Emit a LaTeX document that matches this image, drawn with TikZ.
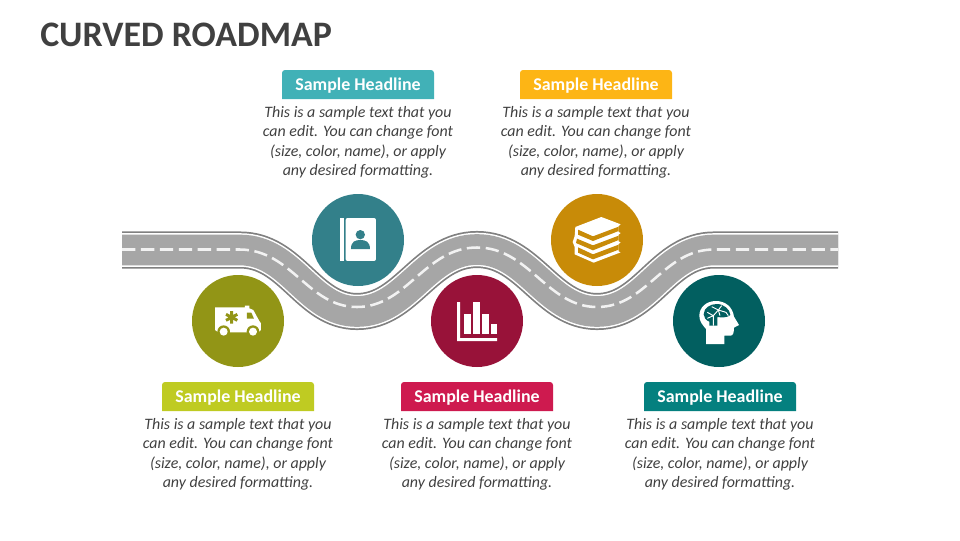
\documentclass[tikz,border=0pt]{standalone}
\usepackage{fontspec}
\setmainfont{Carlito}
\definecolor{ink}{HTML}{404040}
\definecolor{roadgrey}{HTML}{A6A6A6}
\definecolor{roadedge}{HTML}{808080}
\definecolor{cOlive}{HTML}{929516}
\definecolor{cTeal}{HTML}{33808A}
\definecolor{cRed}{HTML}{981239}
\definecolor{cAmber}{HTML}{C88B08}
\definecolor{cDark}{HTML}{025F60}
\definecolor{tTeal}{HTML}{41B1B7}
\definecolor{tAmber}{HTML}{FDB515}
\definecolor{tLime}{HTML}{BFCB22}
\definecolor{tRed}{HTML}{CE1A4F}
\definecolor{tDark}{HTML}{04807F}
\tikzset{
  x=0.75pt,y=-0.75pt,
  disc/.style={circle,minimum size=69pt,inner sep=0pt,fill=#1},
  headtext/.style={font=\fontsize{13.45}{15}\selectfont\bfseries,text=white,inner sep=0pt},
  bodytext/.style={font=\fontsize{11.95}{14.5}\selectfont\itshape,text=ink,align=center,inner sep=0pt,anchor=north},
  icon/.style={fill=white,draw=none},
}
\newcommand{\roadpath}{(122,250) -- (240,250) .. controls (292,250) and (308,311.5) .. (357,311.5) .. controls (407,311.5) and (425,249.5) .. (477,249.5) .. controls (529,249.5) and (547,311.5) .. (597,311.5) .. controls (647,311.5) and (663,250) .. (714,250) -- (838,250)}
\newcommand{\dashpath}{(122,249.5) -- (240,249.5) .. controls (292,250) and (308,307) .. (357,307) .. controls (407,307) and (425,247.5) .. (477,247.5) .. controls (529,247.5) and (547,307) .. (597,307) .. controls (647,307) and (663,249.5) .. (714,249.5) -- (838,249.5)}
\newcommand{\headtab}[5]{% left, top, colour, name, headline
  \fill[#3] (#1,#2+29) [rounded corners=2.25pt] -- (#1,#2) -- (#1+152,#2) [sharp corners] -- (#1+152,#2+29) -- cycle;
  \node[headtext] (#4) at (#1+76,#2+16) {#5};
}
\newcommand{\sampletext}{This is a sample text that you\\can edit. You can change font\\(size, color, name), or apply\\any desired formatting.}
\begin{document}
\begin{tikzpicture}
\useasboundingbox (0,0) rectangle (960,540);
\node[font=\fontsize{26.9}{30}\selectfont\bfseries,text=ink,anchor=west,inner sep=0pt] (title) at (40,34.5) {CURVED ROADMAP};
% road
\draw[roadedge,line width=27.8pt] \roadpath;
\draw[white,line width=25.2pt] \roadpath;
\draw[roadgrey,line width=23pt] \roadpath;
\draw[white!95!black,line width=1.9pt,dash pattern=on 10pt off 4.2pt] \dashpath;
% discs
\node[disc=cOlive] (d1) at (238,321) {};
\node[disc=cTeal] (d2) at (358,240) {};
\node[disc=cRed] (d3) at (477,321) {};
\node[disc=cAmber] (d4) at (597,240) {};
\node[disc=cDark] (d5) at (719,321) {};
% ambulance
\begin{scope}[shift={(190,275)},scale=0.3333]
  \fill[icon] (75,97) -- (165,97) -- (165,92) -- (178,92) -- (178,100) -- (190,105) -- (208,138) -- (213,145) -- (213,165) -- (205,172) -- (85,172) -- (75,165) -- cycle;
  \fill[cOlive] (171,113) -- (184,113) -- (192,131) -- (171,131) -- cycle;
  \draw[cOlive,line width=2.2pt] (125,108) -- (125,146) (108,118) -- (142,136) (108,136) -- (142,118);
  \fill[cOlive] (101,170) circle (19);
  \fill[cOlive] (189,170) circle (19);
  \fill[white] (101,170) circle (12);
  \fill[white] (189,170) circle (12);
\end{scope}
% address book
\begin{scope}[shift={(110,190)},scale=0.3333]
  \fill[icon] (690,84) rectangle (701,213);
  \fill[icon,rounded corners=1.5pt] (707,84) rectangle (798,213);
  \fill[cTeal] (751,134) circle (14);
  \fill[cTeal] (723,177) .. controls (723,155) and (735,150) .. (751,150) .. controls (767,150) and (780,155) .. (780,177) -- cycle;
\end{scope}
% chart
\fill[icon] (457,302) -- (460,302) -- (460,338) -- (497,338) -- (497,341) -- (457,341) -- cycle;
\fill[icon] (464,314) rectangle (471,334);
\fill[icon] (473,302) rectangle (480,334);
\fill[icon] (482,314) rectangle (488.5,334);
\fill[icon] (491,324) rectangle (497,334);
% books
\begin{scope}[shift={(548,192)},scale=0.3333]
  \fill[icon] (160,75) -- (218,97) -- (212,102) -- (212,120) -- (218,123) -- (212,128) -- (212,148) -- (218,151) -- (212,156) -- (212,178) -- (218,181) -- (137,212) -- (80,187) -- (80,165) -- (74,150) -- (80,132) -- (82,105) -- cycle;
  \fill[cAmber] (90,113) -- (135,133) -- (212,104) -- (212,117) -- (135,147) -- (90,128) -- cycle;
  \fill[cAmber] (87,140) -- (135,160) -- (212,131) -- (212,144) -- (135,175) -- (84,153) -- cycle;
  \fill[cAmber] (90,166) -- (135,187) -- (212,158) -- (212,173) -- (135,202) -- (90,182) -- cycle;
\end{scope}
% head and brain
\begin{scope}[shift={(670,275)},scale=0.3333]
  \fill[icon] (108,207) -- (163,207) -- (163,182) -- (182,182) .. controls (190,182) and (192,170) .. (192,158) -- (207,150) -- (192,125) .. controls (188,95) and (165,78) .. (138,78) .. controls (108,78) and (88,98) .. (88,122) .. controls (88,140) and (98,150) .. (108,162) -- cycle;
  \fill[cDark] (101,118) .. controls (101,98) and (122,87) .. (140,87) .. controls (162,87) and (180,103) .. (181,120) .. controls (173,128) and (155,128) .. (142,126) -- (142,152) -- (118,152) -- (118,140) .. controls (108,136) and (101,128) .. (101,118) -- cycle;
  \draw[white,line width=0.7pt] (130,152) -- (130,122) -- (112,112) (130,122) -- (145,105) -- (125,95) (145,105) -- (168,112) (145,105) -- (155,92) (112,130) -- (130,122) (168,112) -- (175,122) (145,105) -- (150,122);
\end{scope}
% labels
\headtab{282}{70}{tTeal}{h2}{Sample Headline}
\headtab{520}{70}{tAmber}{h4}{Sample Headline}
\headtab{162}{382}{tLime}{h1}{Sample Headline}
\headtab{401}{382}{tRed}{h3}{Sample Headline}
\headtab{644}{382}{tDark}{h5}{Sample Headline}
\node[bodytext] (t2) at (358,106) {\sampletext};
\node[bodytext] (t4) at (596,106) {\sampletext};
\node[bodytext] (t1) at (238,418) {\sampletext};
\node[bodytext] (t3) at (477,418) {\sampletext};
\node[bodytext] (t5) at (720,418) {\sampletext};
\end{tikzpicture}
\end{document}
